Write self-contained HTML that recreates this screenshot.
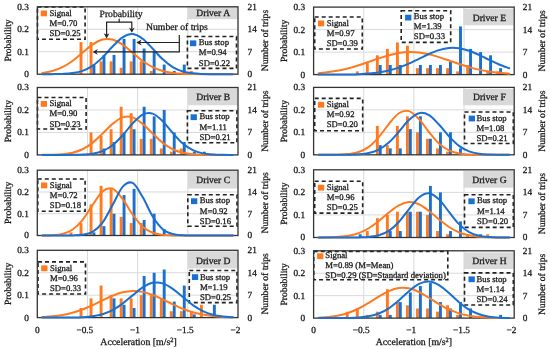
<!DOCTYPE html><html><head><meta charset="utf-8"><style>html,body{margin:0;padding:0;background:#fff;}svg{display:block;will-change:transform;} text{stroke:#111;stroke-width:0.28px;text-rendering:geometricPrecision;}</style></head><body>
<svg width="550" height="349" viewBox="0 0 550 349" font-family='"Liberation Serif", serif'>
<rect width="550" height="349" fill="#fff"/>
<line x1="37.3" y1="51.73" x2="238" y2="51.73" stroke="#D9D9D9" stroke-width="1"/>
<line x1="37.3" y1="29.27" x2="238" y2="29.27" stroke="#D9D9D9" stroke-width="1"/>
<line x1="87.47" y1="6.8" x2="87.47" y2="74.2" stroke="#D9D9D9" stroke-width="1"/>
<line x1="137.65" y1="6.8" x2="137.65" y2="74.2" stroke="#D9D9D9" stroke-width="1"/>
<line x1="187.82" y1="6.8" x2="187.82" y2="74.2" stroke="#D9D9D9" stroke-width="1"/>
<rect x="79.56" y="42.1" width="2.9" height="32.1" fill="#FF7A1E"/>
<rect x="89.59" y="42.1" width="2.9" height="32.1" fill="#FF7A1E"/>
<rect x="99.63" y="61.36" width="2.9" height="12.84" fill="#FF7A1E"/>
<rect x="109.66" y="61.36" width="2.9" height="12.84" fill="#FF7A1E"/>
<rect x="119.7" y="67.78" width="2.9" height="6.42" fill="#FF7A1E"/>
<rect x="129.73" y="61.36" width="2.9" height="12.84" fill="#FF7A1E"/>
<rect x="139.77" y="61.36" width="2.9" height="12.84" fill="#FF7A1E"/>
<rect x="149.8" y="70.99" width="2.9" height="3.21" fill="#FF7A1E"/>
<rect x="189.94" y="70.99" width="2.9" height="3.21" fill="#FF7A1E"/>
<rect x="92.49" y="64.57" width="2.9" height="9.63" fill="#1A6FD0"/>
<rect x="102.53" y="54.94" width="2.9" height="19.26" fill="#1A6FD0"/>
<rect x="112.56" y="54.94" width="2.9" height="19.26" fill="#1A6FD0"/>
<rect x="122.6" y="38.9" width="2.9" height="35.3" fill="#1A6FD0"/>
<rect x="132.63" y="38.9" width="2.9" height="35.3" fill="#1A6FD0"/>
<rect x="142.67" y="48.52" width="2.9" height="25.68" fill="#1A6FD0"/>
<rect x="152.7" y="51.73" width="2.9" height="22.47" fill="#1A6FD0"/>
<rect x="162.74" y="64.57" width="2.9" height="9.63" fill="#1A6FD0"/>
<rect x="172.77" y="70.99" width="2.9" height="3.21" fill="#1A6FD0"/>
<rect x="182.81" y="64.57" width="2.9" height="9.63" fill="#1A6FD0"/>
<rect x="187.6" y="6.8" width="49.8" height="12.4" fill="#D9D9D9"/>
<text x="213.2" y="16.4" font-size="9.6" text-anchor="middle" fill="#222">Driver A</text>
<rect x="37.5" y="7" width="47.6" height="32.3" fill="none" stroke="#222" stroke-width="1.6" stroke-dasharray="4 3"/>
<rect x="40.7" y="10.5" width="6.3" height="5.8" fill="#FF7A1E"/>
<text x="49.5" y="15.6" font-size="8.7" fill="#222">Signal</text>
<text x="49.5" y="25.8" font-size="8.7" fill="#222">M=0.70</text>
<text x="49.5" y="36" font-size="8.7" fill="#222">SD=0.25</text>
<rect x="187.4" y="36.5" width="49.1" height="31.9" fill="none" stroke="#222" stroke-width="1.6" stroke-dasharray="4 3"/>
<rect x="190" y="40.4" width="6.3" height="5.8" fill="#1A6FD0"/>
<text x="198.8" y="45.1" font-size="8.7" fill="#222">Bus stop</text>
<text x="198.8" y="55.3" font-size="8.7" fill="#222">M=0.94</text>
<text x="198.8" y="65.5" font-size="8.7" fill="#222">SD=0.22</text>
<rect x="37.3" y="6.8" width="200.7" height="67.4" fill="none" stroke="#333" stroke-width="1.3"/>
<path d="M42.32,73.00 C43.99,72.67 49.01,72.02 52.35,71.06 C55.70,70.10 59.04,68.90 62.39,67.21 C65.73,65.53 69.08,63.35 72.42,60.95 C75.77,58.54 79.11,55.49 82.46,52.78 C85.80,50.07 89.15,46.90 92.49,44.70 C95.84,42.50 99.18,40.44 102.53,39.59 C105.87,38.73 109.22,38.73 112.56,39.59 C115.91,40.44 119.25,42.50 122.60,44.70 C125.94,46.90 129.29,50.07 132.63,52.78 C135.98,55.49 139.32,58.54 142.67,60.95 C146.01,63.35 149.36,65.53 152.70,67.21 C156.05,68.90 159.39,70.10 162.74,71.06 C166.08,72.02 169.43,72.54 172.77,73.00 C176.12,73.46 179.46,73.63 182.81,73.81 C186.15,73.99 189.50,74.03 192.84,74.09 C196.19,74.15 199.53,74.16 202.88,74.17 C206.22,74.19 209.57,74.19 212.91,74.19 C216.26,74.20 219.60,74.20 222.95,74.20 C226.29,74.20 231.31,74.20 232.98,74.20" fill="none" stroke="#FF7A1E" stroke-width="2" stroke-linejoin="round" stroke-linecap="round"/>
<path d="M42.32,74.19 C43.99,74.18 49.01,74.18 52.35,74.14 C55.70,74.09 59.04,74.08 62.39,73.91 C65.73,73.73 69.08,73.61 72.42,73.10 C75.77,72.59 79.11,72.05 82.46,70.84 C85.80,69.63 89.15,68.11 92.49,65.86 C95.84,63.62 99.18,60.58 102.53,57.37 C105.87,54.15 109.22,49.91 112.56,46.56 C115.91,43.22 119.25,39.37 122.60,37.29 C125.94,35.22 129.29,33.86 132.63,34.11 C135.98,34.36 139.32,36.35 142.67,38.79 C146.01,41.23 149.36,45.33 152.70,48.75 C156.05,52.18 159.39,56.27 162.74,59.33 C166.08,62.39 169.43,65.11 172.77,67.13 C176.12,69.16 179.46,70.43 182.81,71.47 C186.15,72.50 189.50,72.92 192.84,73.34 C196.19,73.76 199.53,73.84 202.88,73.98 C206.22,74.12 209.57,74.12 212.91,74.15 C216.26,74.19 219.60,74.18 222.95,74.19 C226.29,74.20 231.31,74.20 232.98,74.20" fill="none" stroke="#1A6FD0" stroke-width="2" stroke-linejoin="round" stroke-linecap="round"/>
<text x="28.8" y="77.1" font-size="9.3" text-anchor="end" fill="#222">0</text>
<text x="28.8" y="54.63" font-size="9.3" text-anchor="end" fill="#222">0.1</text>
<text x="28.8" y="32.17" font-size="9.3" text-anchor="end" fill="#222">0.2</text>
<text x="28.8" y="9.7" font-size="9.3" text-anchor="end" fill="#222">0.3</text>
<text x="247.5" y="77.1" font-size="9.3" fill="#222">0</text>
<text x="247.5" y="54.63" font-size="9.3" fill="#222">7</text>
<text x="247.5" y="32.17" font-size="9.3" fill="#222">14</text>
<text x="247.5" y="9.7" font-size="9.3" fill="#222">21</text>
<text transform="translate(10.8,40.5) rotate(-90)" font-size="9.5" text-anchor="middle" fill="#222">Probability</text>
<text transform="translate(267.5,40.5) rotate(-90)" font-size="9.6" text-anchor="middle" fill="#222">Number of trips</text>
<line x1="37.3" y1="132.43" x2="238" y2="132.43" stroke="#D9D9D9" stroke-width="1"/>
<line x1="37.3" y1="109.97" x2="238" y2="109.97" stroke="#D9D9D9" stroke-width="1"/>
<line x1="87.47" y1="87.5" x2="87.47" y2="154.9" stroke="#D9D9D9" stroke-width="1"/>
<line x1="137.65" y1="87.5" x2="137.65" y2="154.9" stroke="#D9D9D9" stroke-width="1"/>
<line x1="187.82" y1="87.5" x2="187.82" y2="154.9" stroke="#D9D9D9" stroke-width="1"/>
<rect x="89.59" y="132.43" width="2.9" height="22.47" fill="#FF7A1E"/>
<rect x="99.63" y="135.64" width="2.9" height="19.26" fill="#FF7A1E"/>
<rect x="109.66" y="129.22" width="2.9" height="25.68" fill="#FF7A1E"/>
<rect x="119.7" y="106.76" width="2.9" height="48.14" fill="#FF7A1E"/>
<rect x="129.73" y="113.18" width="2.9" height="41.72" fill="#FF7A1E"/>
<rect x="139.77" y="138.85" width="2.9" height="16.05" fill="#FF7A1E"/>
<rect x="149.8" y="138.85" width="2.9" height="16.05" fill="#FF7A1E"/>
<rect x="159.84" y="148.48" width="2.9" height="6.42" fill="#FF7A1E"/>
<rect x="169.87" y="151.69" width="2.9" height="3.21" fill="#FF7A1E"/>
<rect x="179.91" y="148.48" width="2.9" height="6.42" fill="#FF7A1E"/>
<rect x="102.53" y="148.48" width="2.9" height="6.42" fill="#1A6FD0"/>
<rect x="112.56" y="142.06" width="2.9" height="12.84" fill="#1A6FD0"/>
<rect x="122.6" y="132.43" width="2.9" height="22.47" fill="#1A6FD0"/>
<rect x="132.63" y="129.22" width="2.9" height="25.68" fill="#1A6FD0"/>
<rect x="142.67" y="106.76" width="2.9" height="48.14" fill="#1A6FD0"/>
<rect x="152.7" y="116.39" width="2.9" height="38.51" fill="#1A6FD0"/>
<rect x="162.74" y="109.97" width="2.9" height="44.93" fill="#1A6FD0"/>
<rect x="172.77" y="132.43" width="2.9" height="22.47" fill="#1A6FD0"/>
<rect x="182.81" y="142.06" width="2.9" height="12.84" fill="#1A6FD0"/>
<rect x="192.84" y="151.69" width="2.9" height="3.21" fill="#1A6FD0"/>
<rect x="202.88" y="151.69" width="2.9" height="3.21" fill="#1A6FD0"/>
<rect x="187.6" y="88.4" width="49.8" height="16.9" fill="#D9D9D9"/>
<text x="213.2" y="100.4" font-size="9.6" text-anchor="middle" fill="#222">Driver B</text>
<rect x="37.5" y="97.5" width="48.6" height="31.5" fill="none" stroke="#222" stroke-width="1.6" stroke-dasharray="4 3"/>
<rect x="40.7" y="101" width="6.3" height="5.8" fill="#FF7A1E"/>
<text x="49.5" y="106.1" font-size="8.7" fill="#222">Signal</text>
<text x="49.5" y="116.3" font-size="8.7" fill="#222">M=0.90</text>
<text x="49.5" y="126.5" font-size="8.7" fill="#222">SD=0.23</text>
<rect x="187.4" y="110.8" width="49.5" height="31.9" fill="none" stroke="#222" stroke-width="1.6" stroke-dasharray="4 3"/>
<rect x="190.6" y="114.3" width="6.3" height="5.8" fill="#1A6FD0"/>
<text x="199.4" y="119.4" font-size="8.7" fill="#222">Bus stop</text>
<text x="199.4" y="129.6" font-size="8.7" fill="#222">M=1.11</text>
<text x="199.4" y="139.8" font-size="8.7" fill="#222">SD=0.21</text>
<rect x="37.3" y="87.5" width="200.7" height="67.4" fill="none" stroke="#333" stroke-width="1.3"/>
<path d="M42.32,154.86 C43.99,154.83 49.01,154.82 52.35,154.71 C55.70,154.60 59.04,154.53 62.39,154.19 C65.73,153.86 69.08,153.53 72.42,152.70 C75.77,151.87 79.11,150.88 82.46,149.24 C85.80,147.60 89.15,145.44 92.49,142.84 C95.84,140.24 99.18,136.80 102.53,133.64 C105.87,130.48 109.22,126.57 112.56,123.87 C115.91,121.16 119.25,118.49 122.60,117.41 C125.94,116.34 129.29,116.34 132.63,117.41 C135.98,118.49 139.32,121.16 142.67,123.87 C146.01,126.57 149.36,130.48 152.70,133.64 C156.05,136.80 159.39,140.24 162.74,142.84 C166.08,145.44 169.43,147.60 172.77,149.24 C176.12,150.88 179.46,151.87 182.81,152.70 C186.15,153.53 189.50,153.86 192.84,154.19 C196.19,154.53 199.53,154.60 202.88,154.71 C206.22,154.82 209.57,154.83 212.91,154.86 C216.26,154.89 219.60,154.89 222.95,154.89 C226.29,154.90 231.31,154.90 232.98,154.90" fill="none" stroke="#FF7A1E" stroke-width="2" stroke-linejoin="round" stroke-linecap="round"/>
<path d="M42.32,154.90 C43.99,154.90 49.01,154.90 52.35,154.90 C55.70,154.90 59.04,154.90 62.39,154.89 C65.73,154.88 69.08,154.89 72.42,154.84 C75.77,154.79 79.11,154.79 82.46,154.60 C85.80,154.41 89.15,154.29 92.49,153.70 C95.84,153.11 99.18,152.49 102.53,151.08 C105.87,149.67 109.22,147.85 112.56,145.23 C115.91,142.61 119.25,138.99 122.60,135.37 C125.94,131.74 129.29,126.92 132.63,123.45 C135.98,119.98 139.32,116.18 142.67,114.54 C146.01,112.90 149.36,112.50 152.70,113.62 C156.05,114.73 159.39,118.00 162.74,121.24 C166.08,124.47 169.43,129.30 172.77,133.02 C176.12,136.74 179.46,140.70 182.81,143.56 C186.15,146.43 189.50,148.59 192.84,150.22 C196.19,151.85 199.53,152.65 202.88,153.36 C206.22,154.07 209.57,154.25 212.91,154.50 C216.26,154.74 219.60,154.75 222.95,154.82 C226.29,154.88 231.31,154.87 232.98,154.89" fill="none" stroke="#1A6FD0" stroke-width="2" stroke-linejoin="round" stroke-linecap="round"/>
<text x="28.8" y="157.8" font-size="9.3" text-anchor="end" fill="#222">0</text>
<text x="28.8" y="135.33" font-size="9.3" text-anchor="end" fill="#222">0.1</text>
<text x="28.8" y="112.87" font-size="9.3" text-anchor="end" fill="#222">0.2</text>
<text x="28.8" y="90.4" font-size="9.3" text-anchor="end" fill="#222">0.3</text>
<text x="247.5" y="157.8" font-size="9.3" fill="#222">0</text>
<text x="247.5" y="135.33" font-size="9.3" fill="#222">7</text>
<text x="247.5" y="112.87" font-size="9.3" fill="#222">14</text>
<text x="247.5" y="90.4" font-size="9.3" fill="#222">21</text>
<text transform="translate(10.8,121.2) rotate(-90)" font-size="9.5" text-anchor="middle" fill="#222">Probability</text>
<text transform="translate(267.5,121.2) rotate(-90)" font-size="9.6" text-anchor="middle" fill="#222">Number of trips</text>
<line x1="37.3" y1="213.73" x2="238" y2="213.73" stroke="#D9D9D9" stroke-width="1"/>
<line x1="37.3" y1="191.97" x2="238" y2="191.97" stroke="#D9D9D9" stroke-width="1"/>
<line x1="87.47" y1="170.2" x2="87.47" y2="235.5" stroke="#D9D9D9" stroke-width="1"/>
<line x1="137.65" y1="170.2" x2="137.65" y2="235.5" stroke="#D9D9D9" stroke-width="1"/>
<line x1="187.82" y1="170.2" x2="187.82" y2="235.5" stroke="#D9D9D9" stroke-width="1"/>
<rect x="69.52" y="232.39" width="2.9" height="3.11" fill="#FF7A1E"/>
<rect x="79.56" y="223.06" width="2.9" height="12.44" fill="#FF7A1E"/>
<rect x="89.59" y="204.4" width="2.9" height="31.1" fill="#FF7A1E"/>
<rect x="99.63" y="185.75" width="2.9" height="49.75" fill="#FF7A1E"/>
<rect x="109.66" y="188.86" width="2.9" height="46.64" fill="#FF7A1E"/>
<rect x="119.7" y="216.84" width="2.9" height="18.66" fill="#FF7A1E"/>
<rect x="129.73" y="223.06" width="2.9" height="12.44" fill="#FF7A1E"/>
<rect x="139.77" y="223.06" width="2.9" height="12.44" fill="#FF7A1E"/>
<rect x="92.49" y="232.39" width="2.9" height="3.11" fill="#1A6FD0"/>
<rect x="102.53" y="226.17" width="2.9" height="9.33" fill="#1A6FD0"/>
<rect x="112.56" y="213.73" width="2.9" height="21.77" fill="#1A6FD0"/>
<rect x="122.6" y="195.08" width="2.9" height="40.42" fill="#1A6FD0"/>
<rect x="132.63" y="188.86" width="2.9" height="46.64" fill="#1A6FD0"/>
<rect x="142.67" y="219.95" width="2.9" height="15.55" fill="#1A6FD0"/>
<rect x="152.7" y="213.73" width="2.9" height="21.77" fill="#1A6FD0"/>
<rect x="162.74" y="229.28" width="2.9" height="6.22" fill="#1A6FD0"/>
<rect x="188" y="171" width="49.4" height="17.5" fill="#D9D9D9"/>
<text x="213.2" y="183.3" font-size="9.6" text-anchor="middle" fill="#222">Driver C</text>
<rect x="37.8" y="179" width="47.3" height="32.3" fill="none" stroke="#222" stroke-width="1.6" stroke-dasharray="4 3"/>
<rect x="41" y="182.5" width="6.3" height="5.8" fill="#FF7A1E"/>
<text x="49.8" y="187.6" font-size="8.7" fill="#222">Signal</text>
<text x="49.8" y="197.8" font-size="8.7" fill="#222">M=0.72</text>
<text x="49.8" y="208" font-size="8.7" fill="#222">SD=0.18</text>
<rect x="187.8" y="194.8" width="49.2" height="31.5" fill="none" stroke="#222" stroke-width="1.6" stroke-dasharray="4 3"/>
<rect x="191" y="198.3" width="6.3" height="5.8" fill="#1A6FD0"/>
<text x="199.8" y="203.4" font-size="8.7" fill="#222">Bus stop</text>
<text x="199.8" y="213.6" font-size="8.7" fill="#222">M=0.92</text>
<text x="199.8" y="223.8" font-size="8.7" fill="#222">SD=0.16</text>
<rect x="37.3" y="170.2" width="200.7" height="65.3" fill="none" stroke="#333" stroke-width="1.3"/>
<path d="M42.32,235.45 C43.99,235.41 49.01,235.44 52.35,235.18 C55.70,234.93 59.04,234.83 62.39,233.93 C65.73,233.02 69.08,232.06 72.42,229.75 C75.77,227.44 79.11,224.19 82.46,220.07 C85.80,215.96 89.15,209.85 92.49,205.08 C95.84,200.31 99.18,194.18 102.53,191.44 C105.87,188.70 109.22,187.40 112.56,188.64 C115.91,189.88 119.25,194.58 122.60,198.89 C125.94,203.20 129.29,209.87 132.63,214.49 C135.98,219.12 139.32,223.60 142.67,226.65 C146.01,229.69 149.36,231.39 152.70,232.76 C156.05,234.13 159.39,234.44 162.74,234.88 C166.08,235.32 169.43,235.29 172.77,235.40 C176.12,235.50 179.46,235.47 182.81,235.49 C186.15,235.50 189.50,235.50 192.84,235.50 C196.19,235.50 199.53,235.50 202.88,235.50 C206.22,235.50 209.57,235.50 212.91,235.50 C216.26,235.50 219.60,235.50 222.95,235.50 C226.29,235.50 231.31,235.50 232.98,235.50" fill="none" stroke="#FF7A1E" stroke-width="2" stroke-linejoin="round" stroke-linecap="round"/>
<path d="M42.32,235.50 C43.99,235.50 49.01,235.50 52.35,235.50 C55.70,235.50 59.04,235.51 62.39,235.49 C65.73,235.48 69.08,235.52 72.42,235.41 C75.77,235.29 79.11,235.38 82.46,234.79 C85.80,234.19 89.15,233.84 92.49,231.81 C95.84,229.79 99.18,227.08 102.53,222.63 C105.87,218.18 109.22,211.05 112.56,205.10 C115.91,199.15 119.25,190.61 122.60,186.92 C125.94,183.23 129.29,181.28 132.63,182.97 C135.98,184.66 139.32,191.49 142.67,197.07 C146.01,202.65 149.36,211.13 152.70,216.48 C156.05,221.82 159.39,226.20 162.74,229.13 C166.08,232.06 169.43,233.03 172.77,234.06 C176.12,235.08 179.46,235.04 182.81,235.28 C186.15,235.52 189.50,235.44 192.84,235.48 C196.19,235.51 199.53,235.49 202.88,235.50 C206.22,235.50 209.57,235.50 212.91,235.50 C216.26,235.50 219.60,235.50 222.95,235.50 C226.29,235.50 231.31,235.50 232.98,235.50" fill="none" stroke="#1A6FD0" stroke-width="2" stroke-linejoin="round" stroke-linecap="round"/>
<text x="28.8" y="238.4" font-size="9.3" text-anchor="end" fill="#222">0</text>
<text x="28.8" y="216.63" font-size="9.3" text-anchor="end" fill="#222">0.1</text>
<text x="28.8" y="194.87" font-size="9.3" text-anchor="end" fill="#222">0.2</text>
<text x="28.8" y="173.1" font-size="9.3" text-anchor="end" fill="#222">0.3</text>
<text x="247.5" y="238.4" font-size="9.3" fill="#222">0</text>
<text x="247.5" y="216.63" font-size="9.3" fill="#222">7</text>
<text x="247.5" y="194.87" font-size="9.3" fill="#222">14</text>
<text x="247.5" y="173.1" font-size="9.3" fill="#222">21</text>
<text transform="translate(10.8,202.85) rotate(-90)" font-size="9.5" text-anchor="middle" fill="#222">Probability</text>
<text transform="translate(267.5,202.85) rotate(-90)" font-size="9.6" text-anchor="middle" fill="#222">Number of trips</text>
<line x1="37.3" y1="295.17" x2="238" y2="295.17" stroke="#D9D9D9" stroke-width="1"/>
<line x1="37.3" y1="272.73" x2="238" y2="272.73" stroke="#D9D9D9" stroke-width="1"/>
<line x1="87.47" y1="250.3" x2="87.47" y2="317.6" stroke="#D9D9D9" stroke-width="1"/>
<line x1="137.65" y1="250.3" x2="137.65" y2="317.6" stroke="#D9D9D9" stroke-width="1"/>
<line x1="187.82" y1="250.3" x2="187.82" y2="317.6" stroke="#D9D9D9" stroke-width="1"/>
<rect x="79.56" y="307.99" width="2.9" height="9.61" fill="#FF7A1E"/>
<rect x="89.59" y="298.37" width="2.9" height="19.23" fill="#FF7A1E"/>
<rect x="99.63" y="285.55" width="2.9" height="32.05" fill="#FF7A1E"/>
<rect x="109.66" y="295.17" width="2.9" height="22.43" fill="#FF7A1E"/>
<rect x="119.7" y="298.37" width="2.9" height="19.23" fill="#FF7A1E"/>
<rect x="129.73" y="298.37" width="2.9" height="19.23" fill="#FF7A1E"/>
<rect x="139.77" y="295.17" width="2.9" height="22.43" fill="#FF7A1E"/>
<rect x="149.8" y="295.17" width="2.9" height="22.43" fill="#FF7A1E"/>
<rect x="159.84" y="298.37" width="2.9" height="19.23" fill="#FF7A1E"/>
<rect x="169.87" y="311.19" width="2.9" height="6.41" fill="#FF7A1E"/>
<rect x="179.91" y="311.19" width="2.9" height="6.41" fill="#FF7A1E"/>
<rect x="189.94" y="311.19" width="2.9" height="6.41" fill="#FF7A1E"/>
<rect x="199.98" y="304.78" width="2.9" height="12.82" fill="#FF7A1E"/>
<rect x="112.56" y="298.37" width="2.9" height="19.23" fill="#1A6FD0"/>
<rect x="122.6" y="304.78" width="2.9" height="12.82" fill="#1A6FD0"/>
<rect x="132.63" y="307.99" width="2.9" height="9.61" fill="#1A6FD0"/>
<rect x="142.67" y="275.94" width="2.9" height="41.66" fill="#1A6FD0"/>
<rect x="152.7" y="272.73" width="2.9" height="44.87" fill="#1A6FD0"/>
<rect x="162.74" y="269.53" width="2.9" height="48.07" fill="#1A6FD0"/>
<rect x="172.77" y="301.58" width="2.9" height="16.02" fill="#1A6FD0"/>
<rect x="182.81" y="285.55" width="2.9" height="32.05" fill="#1A6FD0"/>
<rect x="192.84" y="314.4" width="2.9" height="3.2" fill="#1A6FD0"/>
<rect x="212.91" y="304.78" width="2.9" height="12.82" fill="#1A6FD0"/>
<rect x="187.7" y="251.3" width="49.7" height="17.2" fill="#D9D9D9"/>
<text x="213.2" y="263.8" font-size="9.6" text-anchor="middle" fill="#222">Driver D</text>
<rect x="38" y="261.9" width="47.5" height="32.1" fill="none" stroke="#222" stroke-width="1.6" stroke-dasharray="4 3"/>
<rect x="41.2" y="265.4" width="6.3" height="5.8" fill="#FF7A1E"/>
<text x="50" y="270.5" font-size="8.7" fill="#222">Signal</text>
<text x="50" y="280.7" font-size="8.7" fill="#222">M=0.96</text>
<text x="50" y="290.9" font-size="8.7" fill="#222">SD=0.33</text>
<rect x="189.3" y="270.5" width="47.7" height="32.1" fill="none" stroke="#222" stroke-width="1.6" stroke-dasharray="4 3"/>
<rect x="191.9" y="274.2" width="6.3" height="5.8" fill="#1A6FD0"/>
<text x="199.9" y="279.5" font-size="8.7" fill="#222">Bus stop</text>
<text x="199.9" y="289.7" font-size="8.7" fill="#222">M=1.19</text>
<text x="199.9" y="299.9" font-size="8.7" fill="#222">SD=0.25</text>
<rect x="37.3" y="250.3" width="200.7" height="67.3" fill="none" stroke="#333" stroke-width="1.3"/>
<path d="M42.32,317.00 C43.99,316.88 49.01,316.63 52.35,316.29 C55.70,315.95 59.04,315.55 62.39,314.96 C65.73,314.37 69.08,313.67 72.42,312.76 C75.77,311.85 79.11,310.76 82.46,309.51 C85.80,308.26 89.15,306.77 92.49,305.25 C95.84,303.74 99.18,302.00 102.53,300.42 C105.87,298.84 109.22,297.13 112.56,295.78 C115.91,294.44 119.25,293.14 122.60,292.33 C125.94,291.52 129.29,290.98 132.63,290.90 C135.98,290.82 139.32,291.18 142.67,291.86 C146.01,292.54 149.36,293.70 152.70,294.97 C156.05,296.23 159.39,297.89 162.74,299.44 C166.08,301.00 169.43,302.77 172.77,304.31 C176.12,305.86 179.46,307.42 182.81,308.73 C186.15,310.04 189.50,311.22 192.84,312.20 C196.19,313.18 199.53,313.95 202.88,314.60 C206.22,315.25 209.57,315.70 212.91,316.08 C216.26,316.46 219.60,316.69 222.95,316.90 C226.29,317.10 231.31,317.24 232.98,317.30" fill="none" stroke="#FF7A1E" stroke-width="2" stroke-linejoin="round" stroke-linecap="round"/>
<path d="M42.32,317.60 C43.99,317.60 49.01,317.60 52.35,317.59 C55.70,317.59 59.04,317.59 62.39,317.57 C65.73,317.55 69.08,317.54 72.42,317.48 C75.77,317.41 79.11,317.36 82.46,317.16 C85.80,316.96 89.15,316.77 92.49,316.27 C95.84,315.77 99.18,315.21 102.53,314.18 C105.87,313.15 109.22,311.87 112.56,310.11 C115.91,308.35 119.25,306.07 122.60,303.61 C125.94,301.16 129.29,298.05 132.63,295.36 C135.98,292.66 139.32,289.55 142.67,287.46 C146.01,285.36 149.36,283.47 152.70,282.79 C156.05,282.10 159.39,282.33 162.74,283.34 C166.08,284.35 169.43,286.58 172.77,288.87 C176.12,291.16 179.46,294.36 182.81,297.07 C186.15,299.77 189.50,302.76 192.84,305.10 C196.19,307.44 199.53,309.51 202.88,311.11 C206.22,312.72 209.57,313.83 212.91,314.73 C216.26,315.63 219.60,316.10 222.95,316.52 C226.29,316.94 231.31,317.13 232.98,317.25" fill="none" stroke="#1A6FD0" stroke-width="2" stroke-linejoin="round" stroke-linecap="round"/>
<text x="28.8" y="320.5" font-size="9.3" text-anchor="end" fill="#222">0</text>
<text x="28.8" y="298.07" font-size="9.3" text-anchor="end" fill="#222">0.1</text>
<text x="28.8" y="275.63" font-size="9.3" text-anchor="end" fill="#222">0.2</text>
<text x="28.8" y="253.2" font-size="9.3" text-anchor="end" fill="#222">0.3</text>
<text x="247.5" y="320.5" font-size="9.3" fill="#222">0</text>
<text x="247.5" y="298.07" font-size="9.3" fill="#222">7</text>
<text x="247.5" y="275.63" font-size="9.3" fill="#222">14</text>
<text x="247.5" y="253.2" font-size="9.3" fill="#222">21</text>
<text transform="translate(10.8,283.95) rotate(-90)" font-size="9.5" text-anchor="middle" fill="#222">Probability</text>
<text transform="translate(267.5,283.95) rotate(-90)" font-size="9.6" text-anchor="middle" fill="#222">Number of trips</text>
<text x="37.3" y="333" font-size="9.3" text-anchor="middle" fill="#222">0</text>
<text x="93.29" y="333" font-size="9.3" text-anchor="end" fill="#222">−0.5</text>
<text x="139.97" y="333" font-size="9.3" text-anchor="end" fill="#222">−1</text>
<text x="193.64" y="333" font-size="9.3" text-anchor="end" fill="#222">−1.5</text>
<text x="240.32" y="333" font-size="9.3" text-anchor="end" fill="#222">−2</text>
<text x="138.55" y="345" font-size="9.8" text-anchor="middle" fill="#222">Acceleration [m/s<tspan font-size="6.5" dy="-3.5">2</tspan><tspan dy="3.5">]</tspan></text>
<line x1="313.6" y1="52.1" x2="514.2" y2="52.1" stroke="#D9D9D9" stroke-width="1"/>
<line x1="313.6" y1="29.6" x2="514.2" y2="29.6" stroke="#D9D9D9" stroke-width="1"/>
<line x1="363.75" y1="7.1" x2="363.75" y2="74.6" stroke="#D9D9D9" stroke-width="1"/>
<line x1="413.9" y1="7.1" x2="413.9" y2="74.6" stroke="#D9D9D9" stroke-width="1"/>
<line x1="464.05" y1="7.1" x2="464.05" y2="74.6" stroke="#D9D9D9" stroke-width="1"/>
<rect x="355.84" y="71.39" width="2.9" height="3.21" fill="#FF7A1E"/>
<rect x="365.87" y="61.74" width="2.9" height="12.86" fill="#FF7A1E"/>
<rect x="375.9" y="55.31" width="2.9" height="19.29" fill="#FF7A1E"/>
<rect x="385.93" y="48.89" width="2.9" height="25.71" fill="#FF7A1E"/>
<rect x="395.96" y="42.46" width="2.9" height="32.14" fill="#FF7A1E"/>
<rect x="405.99" y="45.67" width="2.9" height="28.93" fill="#FF7A1E"/>
<rect x="416.02" y="68.17" width="2.9" height="6.43" fill="#FF7A1E"/>
<rect x="426.05" y="68.17" width="2.9" height="6.43" fill="#FF7A1E"/>
<rect x="436.08" y="68.17" width="2.9" height="6.43" fill="#FF7A1E"/>
<rect x="446.11" y="68.17" width="2.9" height="6.43" fill="#FF7A1E"/>
<rect x="456.14" y="71.39" width="2.9" height="3.21" fill="#FF7A1E"/>
<rect x="466.17" y="64.96" width="2.9" height="9.64" fill="#FF7A1E"/>
<rect x="486.23" y="71.39" width="2.9" height="3.21" fill="#FF7A1E"/>
<rect x="496.26" y="71.39" width="2.9" height="3.21" fill="#FF7A1E"/>
<rect x="378.8" y="64.96" width="2.9" height="9.64" fill="#1A6FD0"/>
<rect x="388.83" y="64.96" width="2.9" height="9.64" fill="#1A6FD0"/>
<rect x="398.86" y="64.96" width="2.9" height="9.64" fill="#1A6FD0"/>
<rect x="418.92" y="64.96" width="2.9" height="9.64" fill="#1A6FD0"/>
<rect x="428.95" y="64.96" width="2.9" height="9.64" fill="#1A6FD0"/>
<rect x="438.98" y="64.96" width="2.9" height="9.64" fill="#1A6FD0"/>
<rect x="449.01" y="61.74" width="2.9" height="12.86" fill="#1A6FD0"/>
<rect x="459.04" y="26.39" width="2.9" height="48.21" fill="#1A6FD0"/>
<rect x="469.07" y="48.89" width="2.9" height="25.71" fill="#1A6FD0"/>
<rect x="479.1" y="52.1" width="2.9" height="22.5" fill="#1A6FD0"/>
<rect x="489.13" y="55.31" width="2.9" height="19.29" fill="#1A6FD0"/>
<rect x="499.16" y="68.17" width="2.9" height="6.43" fill="#1A6FD0"/>
<rect x="463.3" y="8.7" width="50.3" height="16.6" fill="#D9D9D9"/>
<text x="489.4" y="21" font-size="9.6" text-anchor="middle" fill="#222">Driver E</text>
<rect x="314.7" y="17" width="47.6" height="32" fill="none" stroke="#222" stroke-width="1.6" stroke-dasharray="4 3"/>
<rect x="317.9" y="20.5" width="6.3" height="5.8" fill="#FF7A1E"/>
<text x="326.7" y="25.6" font-size="8.7" fill="#222">Signal</text>
<text x="326.7" y="35.8" font-size="8.7" fill="#222">M=0.97</text>
<text x="326.7" y="46" font-size="8.7" fill="#222">SD=0.39</text>
<rect x="401.2" y="10.8" width="49.5" height="31.6" fill="none" stroke="#222" stroke-width="1.6" stroke-dasharray="4 3"/>
<rect x="405.1" y="14.7" width="6.3" height="5.8" fill="#1A6FD0"/>
<text x="413.8" y="18.7" font-size="8.7" fill="#222">Bus stop</text>
<text x="413.8" y="28.9" font-size="8.7" fill="#222">M=1.39</text>
<text x="413.8" y="39.1" font-size="8.7" fill="#222">SD=0.33</text>
<rect x="313.6" y="7.1" width="200.6" height="67.5" fill="none" stroke="#333" stroke-width="1.3"/>
<path d="M318.62,73.20 C320.29,73.02 325.30,72.57 328.65,72.11 C331.99,71.66 335.33,71.13 338.68,70.48 C342.02,69.82 345.36,69.06 348.71,68.19 C352.05,67.33 355.39,66.33 358.74,65.28 C362.08,64.23 365.42,63.05 368.77,61.91 C372.11,60.76 375.45,59.52 378.80,58.41 C382.14,57.30 385.48,56.17 388.83,55.26 C392.17,54.36 395.51,53.53 398.86,52.98 C402.20,52.43 405.54,52.06 408.89,51.96 C412.23,51.86 415.57,52.02 418.92,52.40 C422.26,52.78 425.60,53.44 428.95,54.22 C432.29,55.00 435.63,56.03 438.98,57.08 C442.32,58.13 445.66,59.35 449.01,60.50 C452.35,61.65 455.69,62.87 459.04,63.97 C462.38,65.07 465.72,66.15 469.07,67.10 C472.41,68.04 475.75,68.90 479.10,69.64 C482.44,70.38 485.78,71.00 489.13,71.53 C492.47,72.06 495.81,72.47 499.16,72.82 C502.50,73.17 507.51,73.50 509.19,73.64" fill="none" stroke="#FF7A1E" stroke-width="2" stroke-linejoin="round" stroke-linecap="round"/>
<path d="M318.62,74.59 C320.29,74.59 325.30,74.59 328.65,74.58 C331.99,74.57 335.33,74.56 338.68,74.53 C342.02,74.50 345.36,74.48 348.71,74.41 C352.05,74.35 355.39,74.28 358.74,74.14 C362.08,73.99 365.42,73.83 368.77,73.55 C372.11,73.27 375.45,72.94 378.80,72.43 C382.14,71.93 385.48,71.32 388.83,70.51 C392.17,69.71 395.51,68.73 398.86,67.58 C402.20,66.42 405.54,65.04 408.89,63.59 C412.23,62.13 415.57,60.43 418.92,58.84 C422.26,57.25 425.60,55.49 428.95,54.03 C432.29,52.58 435.63,51.12 438.98,50.11 C442.32,49.11 445.66,48.31 449.01,48.00 C452.35,47.69 455.69,47.78 459.04,48.25 C462.38,48.71 465.72,49.66 469.07,50.78 C472.41,51.90 475.75,53.45 479.10,54.96 C482.44,56.46 485.78,58.24 489.13,59.82 C492.47,61.41 495.81,63.05 499.16,64.46 C502.50,65.86 507.51,67.62 509.19,68.25" fill="none" stroke="#1A6FD0" stroke-width="2" stroke-linejoin="round" stroke-linecap="round"/>
<text x="305.1" y="77.5" font-size="9.3" text-anchor="end" fill="#222">0</text>
<text x="305.1" y="55" font-size="9.3" text-anchor="end" fill="#222">0.1</text>
<text x="305.1" y="32.5" font-size="9.3" text-anchor="end" fill="#222">0.2</text>
<text x="305.1" y="10" font-size="9.3" text-anchor="end" fill="#222">0.3</text>
<text x="522.8" y="77.5" font-size="9.3" fill="#222">0</text>
<text x="522.8" y="55" font-size="9.3" fill="#222">7</text>
<text x="522.8" y="32.5" font-size="9.3" fill="#222">14</text>
<text x="522.8" y="10" font-size="9.3" fill="#222">21</text>
<text transform="translate(287.1,40.85) rotate(-90)" font-size="9.5" text-anchor="middle" fill="#222">Probability</text>
<text transform="translate(545.2,40.85) rotate(-90)" font-size="9.6" text-anchor="middle" fill="#222">Number of trips</text>
<line x1="313.6" y1="132.33" x2="514.2" y2="132.33" stroke="#D9D9D9" stroke-width="1"/>
<line x1="313.6" y1="109.87" x2="514.2" y2="109.87" stroke="#D9D9D9" stroke-width="1"/>
<line x1="363.75" y1="87.4" x2="363.75" y2="154.8" stroke="#D9D9D9" stroke-width="1"/>
<line x1="413.9" y1="87.4" x2="413.9" y2="154.8" stroke="#D9D9D9" stroke-width="1"/>
<line x1="464.05" y1="87.4" x2="464.05" y2="154.8" stroke="#D9D9D9" stroke-width="1"/>
<rect x="375.9" y="125.91" width="2.9" height="28.89" fill="#FF7A1E"/>
<rect x="385.93" y="145.17" width="2.9" height="9.63" fill="#FF7A1E"/>
<rect x="395.96" y="125.91" width="2.9" height="28.89" fill="#FF7A1E"/>
<rect x="405.99" y="116.29" width="2.9" height="38.51" fill="#FF7A1E"/>
<rect x="416.02" y="132.33" width="2.9" height="22.47" fill="#FF7A1E"/>
<rect x="426.05" y="138.75" width="2.9" height="16.05" fill="#FF7A1E"/>
<rect x="436.08" y="148.38" width="2.9" height="6.42" fill="#FF7A1E"/>
<rect x="446.11" y="151.59" width="2.9" height="3.21" fill="#FF7A1E"/>
<rect x="378.8" y="145.17" width="2.9" height="9.63" fill="#1A6FD0"/>
<rect x="388.83" y="148.38" width="2.9" height="6.42" fill="#1A6FD0"/>
<rect x="398.86" y="148.38" width="2.9" height="6.42" fill="#1A6FD0"/>
<rect x="408.89" y="129.12" width="2.9" height="25.68" fill="#1A6FD0"/>
<rect x="418.92" y="116.29" width="2.9" height="38.51" fill="#1A6FD0"/>
<rect x="428.95" y="138.75" width="2.9" height="16.05" fill="#1A6FD0"/>
<rect x="438.98" y="132.33" width="2.9" height="22.47" fill="#1A6FD0"/>
<rect x="449.01" y="132.33" width="2.9" height="22.47" fill="#1A6FD0"/>
<rect x="459.04" y="148.38" width="2.9" height="6.42" fill="#1A6FD0"/>
<rect x="463" y="89" width="50.6" height="16.3" fill="#D9D9D9"/>
<text x="489.4" y="100" font-size="9.6" text-anchor="middle" fill="#222">Driver F</text>
<rect x="314.7" y="98.4" width="48" height="32.3" fill="none" stroke="#222" stroke-width="1.6" stroke-dasharray="4 3"/>
<rect x="317.9" y="101.9" width="6.3" height="5.8" fill="#FF7A1E"/>
<text x="326.7" y="107" font-size="8.7" fill="#222">Signal</text>
<text x="326.7" y="117.2" font-size="8.7" fill="#222">M=0.92</text>
<text x="326.7" y="127.4" font-size="8.7" fill="#222">SD=0.20</text>
<rect x="464.5" y="112" width="48.8" height="31.5" fill="none" stroke="#222" stroke-width="1.6" stroke-dasharray="4 3"/>
<rect x="468.7" y="115.6" width="6.3" height="5.8" fill="#1A6FD0"/>
<text x="476.5" y="120.6" font-size="8.7" fill="#222">Bus stop</text>
<text x="476.5" y="130.8" font-size="8.7" fill="#222">M=1.08</text>
<text x="476.5" y="141" font-size="8.7" fill="#222">SD=0.21</text>
<rect x="313.6" y="87.4" width="200.6" height="67.4" fill="none" stroke="#333" stroke-width="1.3"/>
<path d="M318.62,154.80 C320.29,154.79 325.30,154.80 328.65,154.77 C331.99,154.75 335.33,154.76 338.68,154.64 C342.02,154.52 345.36,154.48 348.71,154.04 C352.05,153.60 355.39,153.21 358.74,152.01 C362.08,150.81 365.42,149.32 368.77,146.83 C372.11,144.33 375.45,140.85 378.80,137.05 C382.14,133.26 385.48,128.00 388.83,124.04 C392.17,120.08 395.51,115.43 398.86,113.28 C402.20,111.13 405.54,110.19 408.89,111.15 C412.23,112.12 415.57,115.59 418.92,119.06 C422.26,122.54 425.60,127.94 428.95,132.01 C432.29,136.08 435.63,140.42 438.98,143.48 C442.32,146.55 445.66,148.76 449.01,150.42 C452.35,152.09 455.69,152.80 459.04,153.48 C462.38,154.16 465.72,154.28 469.07,154.49 C472.41,154.70 475.75,154.69 479.10,154.74 C482.44,154.79 485.78,154.78 489.13,154.79 C492.47,154.80 495.81,154.80 499.16,154.80 C502.50,154.80 507.51,154.80 509.19,154.80" fill="none" stroke="#FF7A1E" stroke-width="2" stroke-linejoin="round" stroke-linecap="round"/>
<path d="M318.62,154.80 C320.29,154.80 325.30,154.80 328.65,154.80 C331.99,154.79 335.33,154.80 338.68,154.78 C342.02,154.77 345.36,154.78 348.71,154.70 C352.05,154.63 355.39,154.61 358.74,154.33 C362.08,154.06 365.42,153.84 368.77,153.06 C372.11,152.28 375.45,151.38 378.80,149.63 C382.14,147.88 385.48,145.55 388.83,142.57 C392.17,139.58 395.51,135.47 398.86,131.72 C402.20,127.98 405.54,123.18 408.89,120.09 C412.23,117.00 415.57,114.03 418.92,113.19 C422.26,112.34 425.60,113.15 428.95,115.03 C432.29,116.92 435.63,120.94 438.98,124.51 C442.32,128.07 445.66,132.84 449.01,136.40 C452.35,139.97 455.69,143.40 459.04,145.90 C462.38,148.39 465.72,150.06 469.07,151.36 C472.41,152.67 475.75,153.21 479.10,153.74 C482.44,154.27 485.78,154.37 489.13,154.54 C492.47,154.71 495.81,154.71 499.16,154.75 C502.50,154.79 507.51,154.78 509.19,154.79" fill="none" stroke="#1A6FD0" stroke-width="2" stroke-linejoin="round" stroke-linecap="round"/>
<text x="305.1" y="157.7" font-size="9.3" text-anchor="end" fill="#222">0</text>
<text x="305.1" y="135.23" font-size="9.3" text-anchor="end" fill="#222">0.1</text>
<text x="305.1" y="112.77" font-size="9.3" text-anchor="end" fill="#222">0.2</text>
<text x="305.1" y="90.3" font-size="9.3" text-anchor="end" fill="#222">0.3</text>
<text x="522.8" y="157.7" font-size="9.3" fill="#222">0</text>
<text x="522.8" y="135.23" font-size="9.3" fill="#222">7</text>
<text x="522.8" y="112.77" font-size="9.3" fill="#222">14</text>
<text x="522.8" y="90.3" font-size="9.3" fill="#222">21</text>
<text transform="translate(287.1,121.1) rotate(-90)" font-size="9.5" text-anchor="middle" fill="#222">Probability</text>
<text transform="translate(545.2,121.1) rotate(-90)" font-size="9.6" text-anchor="middle" fill="#222">Number of trips</text>
<line x1="313.6" y1="214.93" x2="514.2" y2="214.93" stroke="#D9D9D9" stroke-width="1"/>
<line x1="313.6" y1="192.37" x2="514.2" y2="192.37" stroke="#D9D9D9" stroke-width="1"/>
<line x1="363.75" y1="169.8" x2="363.75" y2="237.5" stroke="#D9D9D9" stroke-width="1"/>
<line x1="413.9" y1="169.8" x2="413.9" y2="237.5" stroke="#D9D9D9" stroke-width="1"/>
<line x1="464.05" y1="169.8" x2="464.05" y2="237.5" stroke="#D9D9D9" stroke-width="1"/>
<rect x="365.87" y="231.05" width="2.9" height="6.45" fill="#FF7A1E"/>
<rect x="375.9" y="218.16" width="2.9" height="19.34" fill="#FF7A1E"/>
<rect x="385.93" y="214.93" width="2.9" height="22.57" fill="#FF7A1E"/>
<rect x="395.96" y="211.71" width="2.9" height="25.79" fill="#FF7A1E"/>
<rect x="405.99" y="211.71" width="2.9" height="25.79" fill="#FF7A1E"/>
<rect x="416.02" y="211.71" width="2.9" height="25.79" fill="#FF7A1E"/>
<rect x="426.05" y="214.93" width="2.9" height="22.57" fill="#FF7A1E"/>
<rect x="436.08" y="231.05" width="2.9" height="6.45" fill="#FF7A1E"/>
<rect x="446.11" y="234.28" width="2.9" height="3.22" fill="#FF7A1E"/>
<rect x="466.17" y="234.28" width="2.9" height="3.22" fill="#FF7A1E"/>
<rect x="486.23" y="234.28" width="2.9" height="3.22" fill="#FF7A1E"/>
<rect x="358.74" y="234.28" width="2.9" height="3.22" fill="#1A6FD0"/>
<rect x="388.83" y="231.05" width="2.9" height="6.45" fill="#1A6FD0"/>
<rect x="398.86" y="231.05" width="2.9" height="6.45" fill="#1A6FD0"/>
<rect x="408.89" y="211.71" width="2.9" height="25.79" fill="#1A6FD0"/>
<rect x="418.92" y="211.71" width="2.9" height="25.79" fill="#1A6FD0"/>
<rect x="428.95" y="185.92" width="2.9" height="51.58" fill="#1A6FD0"/>
<rect x="438.98" y="192.37" width="2.9" height="45.13" fill="#1A6FD0"/>
<rect x="449.01" y="231.05" width="2.9" height="6.45" fill="#1A6FD0"/>
<rect x="459.04" y="221.38" width="2.9" height="16.12" fill="#1A6FD0"/>
<rect x="479.1" y="234.28" width="2.9" height="3.22" fill="#1A6FD0"/>
<rect x="463.5" y="170.7" width="50.1" height="17" fill="#D9D9D9"/>
<text x="489.4" y="183" font-size="9.6" text-anchor="middle" fill="#222">Driver G</text>
<rect x="314.7" y="181.3" width="48" height="31.8" fill="none" stroke="#222" stroke-width="1.6" stroke-dasharray="4 3"/>
<rect x="317.9" y="184.8" width="6.3" height="5.8" fill="#FF7A1E"/>
<text x="326.7" y="189.9" font-size="8.7" fill="#222">Signal</text>
<text x="326.7" y="200.1" font-size="8.7" fill="#222">M=0.96</text>
<text x="326.7" y="210.3" font-size="8.7" fill="#222">SD=0.25</text>
<rect x="464.5" y="194.8" width="48.8" height="32.6" fill="none" stroke="#222" stroke-width="1.6" stroke-dasharray="4 3"/>
<rect x="468.4" y="198.4" width="6.3" height="5.8" fill="#1A6FD0"/>
<text x="476.9" y="203.4" font-size="8.7" fill="#222">Bus stop</text>
<text x="476.9" y="213.6" font-size="8.7" fill="#222">M=1.14</text>
<text x="476.9" y="223.8" font-size="8.7" fill="#222">SD=0.20</text>
<rect x="313.6" y="169.8" width="200.6" height="67.7" fill="none" stroke="#333" stroke-width="1.3"/>
<path d="M318.62,237.45 C320.29,237.43 325.30,237.41 328.65,237.31 C331.99,237.22 335.33,237.14 338.68,236.87 C342.02,236.60 345.36,236.33 348.71,235.69 C352.05,235.06 355.39,234.31 358.74,233.07 C362.08,231.83 365.42,230.26 368.77,228.26 C372.11,226.25 375.45,223.67 378.80,221.06 C382.14,218.44 385.48,215.20 388.83,212.57 C392.17,209.95 395.51,207.05 398.86,205.30 C402.20,203.55 405.54,202.23 408.89,202.06 C412.23,201.88 415.57,202.78 418.92,204.25 C422.26,205.73 425.60,208.40 428.95,210.93 C432.29,213.45 435.63,216.72 438.98,219.40 C442.32,222.08 445.66,224.84 449.01,226.99 C452.35,229.14 455.69,230.92 459.04,232.30 C462.38,233.69 465.72,234.58 469.07,235.31 C472.41,236.04 475.75,236.39 479.10,236.71 C482.44,237.04 485.78,237.14 489.13,237.26 C492.47,237.38 495.81,237.40 499.16,237.44 C502.50,237.48 507.51,237.48 509.19,237.49" fill="none" stroke="#FF7A1E" stroke-width="2" stroke-linejoin="round" stroke-linecap="round"/>
<path d="M318.62,237.50 C320.29,237.50 325.30,237.50 328.65,237.50 C331.99,237.50 335.33,237.50 338.68,237.50 C342.02,237.49 345.36,237.50 348.71,237.48 C352.05,237.46 355.39,237.48 358.74,237.38 C362.08,237.29 365.42,237.28 368.77,236.93 C372.11,236.58 375.45,236.30 378.80,235.30 C382.14,234.29 385.48,233.09 388.83,230.88 C392.17,228.66 395.51,225.61 398.86,222.00 C402.20,218.40 405.54,213.36 408.89,209.26 C412.23,205.17 415.57,200.11 418.92,197.43 C422.26,194.76 425.60,192.89 428.95,193.22 C432.29,193.54 435.63,196.26 438.98,199.38 C442.32,202.51 445.66,207.82 449.01,211.95 C452.35,216.08 455.69,220.81 459.04,224.16 C462.38,227.52 465.72,230.14 469.07,232.08 C472.41,234.01 475.75,234.95 479.10,235.78 C482.44,236.62 485.78,236.80 489.13,237.08 C492.47,237.35 495.81,237.35 499.16,237.42 C502.50,237.49 507.51,237.48 509.19,237.49" fill="none" stroke="#1A6FD0" stroke-width="2" stroke-linejoin="round" stroke-linecap="round"/>
<text x="305.1" y="240.4" font-size="9.3" text-anchor="end" fill="#222">0</text>
<text x="305.1" y="217.83" font-size="9.3" text-anchor="end" fill="#222">0.1</text>
<text x="305.1" y="195.27" font-size="9.3" text-anchor="end" fill="#222">0.2</text>
<text x="305.1" y="172.7" font-size="9.3" text-anchor="end" fill="#222">0.3</text>
<text x="522.8" y="240.4" font-size="9.3" fill="#222">0</text>
<text x="522.8" y="217.83" font-size="9.3" fill="#222">7</text>
<text x="522.8" y="195.27" font-size="9.3" fill="#222">14</text>
<text x="522.8" y="172.7" font-size="9.3" fill="#222">21</text>
<text transform="translate(287.1,203.65) rotate(-90)" font-size="9.5" text-anchor="middle" fill="#222">Probability</text>
<text transform="translate(545.2,203.65) rotate(-90)" font-size="9.6" text-anchor="middle" fill="#222">Number of trips</text>
<line x1="313.6" y1="295.67" x2="514.2" y2="295.67" stroke="#D9D9D9" stroke-width="1"/>
<line x1="313.6" y1="273.23" x2="514.2" y2="273.23" stroke="#D9D9D9" stroke-width="1"/>
<line x1="363.75" y1="250.8" x2="363.75" y2="318.1" stroke="#D9D9D9" stroke-width="1"/>
<line x1="413.9" y1="250.8" x2="413.9" y2="318.1" stroke="#D9D9D9" stroke-width="1"/>
<line x1="464.05" y1="250.8" x2="464.05" y2="318.1" stroke="#D9D9D9" stroke-width="1"/>
<rect x="345.81" y="311.69" width="2.9" height="6.41" fill="#FF7A1E"/>
<rect x="355.84" y="308.49" width="2.9" height="9.61" fill="#FF7A1E"/>
<rect x="365.87" y="314.9" width="2.9" height="3.2" fill="#FF7A1E"/>
<rect x="375.9" y="311.69" width="2.9" height="6.41" fill="#FF7A1E"/>
<rect x="385.93" y="289.26" width="2.9" height="28.84" fill="#FF7A1E"/>
<rect x="395.96" y="302.08" width="2.9" height="16.02" fill="#FF7A1E"/>
<rect x="405.99" y="305.28" width="2.9" height="12.82" fill="#FF7A1E"/>
<rect x="416.02" y="308.49" width="2.9" height="9.61" fill="#FF7A1E"/>
<rect x="426.05" y="308.49" width="2.9" height="9.61" fill="#FF7A1E"/>
<rect x="436.08" y="311.69" width="2.9" height="6.41" fill="#FF7A1E"/>
<rect x="446.11" y="305.28" width="2.9" height="12.82" fill="#FF7A1E"/>
<rect x="456.14" y="314.9" width="2.9" height="3.2" fill="#FF7A1E"/>
<rect x="378.8" y="314.9" width="2.9" height="3.2" fill="#1A6FD0"/>
<rect x="388.83" y="314.9" width="2.9" height="3.2" fill="#1A6FD0"/>
<rect x="398.86" y="302.08" width="2.9" height="16.02" fill="#1A6FD0"/>
<rect x="408.89" y="292.46" width="2.9" height="25.64" fill="#1A6FD0"/>
<rect x="418.92" y="286.05" width="2.9" height="32.05" fill="#1A6FD0"/>
<rect x="428.95" y="282.85" width="2.9" height="35.25" fill="#1A6FD0"/>
<rect x="438.98" y="302.08" width="2.9" height="16.02" fill="#1A6FD0"/>
<rect x="449.01" y="308.49" width="2.9" height="9.61" fill="#1A6FD0"/>
<rect x="459.04" y="302.08" width="2.9" height="16.02" fill="#1A6FD0"/>
<rect x="469.07" y="308.49" width="2.9" height="9.61" fill="#1A6FD0"/>
<rect x="499.16" y="314.9" width="2.9" height="3.2" fill="#1A6FD0"/>
<rect x="463.9" y="252.4" width="49.7" height="16.6" fill="#D9D9D9"/>
<text x="489.4" y="264" font-size="9.6" text-anchor="middle" fill="#222">Driver H</text>
<rect x="313.8" y="251.4" width="134" height="28.3" fill="none" stroke="#222" stroke-width="1.6" stroke-dasharray="4 3"/>
<rect x="317.1" y="253.3" width="6.3" height="5.8" fill="#FF7A1E"/>
<text x="325.3" y="257.7" font-size="8.7" fill="#222">Signal</text>
<text x="325.3" y="267.7" font-size="8.7" fill="#222">M=0.89 (M=Mean)</text>
<text x="325.3" y="277.7" font-size="8.7" fill="#222">SD=0.29 (SD=Standard deviation)</text>
<rect x="464.5" y="272.9" width="48.8" height="32.1" fill="none" stroke="#222" stroke-width="1.6" stroke-dasharray="4 3"/>
<rect x="468.5" y="276.4" width="6.3" height="5.8" fill="#1A6FD0"/>
<text x="476.5" y="281.5" font-size="8.7" fill="#222">Bus stop</text>
<text x="476.5" y="291.7" font-size="8.7" fill="#222">M=1.14</text>
<text x="476.5" y="301.9" font-size="8.7" fill="#222">SD=0.24</text>
<rect x="313.6" y="250.8" width="200.6" height="67.3" fill="none" stroke="#333" stroke-width="1.3"/>
<path d="M318.62,317.64 C320.29,317.52 325.30,317.30 328.65,316.93 C331.99,316.56 335.33,316.14 338.68,315.44 C342.02,314.74 345.36,313.89 348.71,312.73 C352.05,311.57 355.39,310.14 358.74,308.48 C362.08,306.83 365.42,304.81 368.77,302.81 C372.11,300.82 375.45,298.48 378.80,296.52 C382.14,294.56 385.48,292.47 388.83,291.05 C392.17,289.62 395.51,288.44 398.86,287.99 C402.20,287.54 405.54,287.68 408.89,288.35 C412.23,289.01 415.57,290.42 418.92,291.99 C422.26,293.56 425.60,295.76 428.95,297.76 C432.29,299.77 435.63,302.08 438.98,304.03 C442.32,305.98 445.66,307.90 449.01,309.46 C452.35,311.02 455.69,312.33 459.04,313.39 C462.38,314.45 465.72,315.20 469.07,315.82 C472.41,316.44 475.75,316.80 479.10,317.12 C482.44,317.44 485.78,317.58 489.13,317.73 C492.47,317.87 495.81,317.92 499.16,317.97 C502.50,318.03 507.51,318.05 509.19,318.06" fill="none" stroke="#FF7A1E" stroke-width="2" stroke-linejoin="round" stroke-linecap="round"/>
<path d="M318.62,318.10 C320.29,318.10 325.30,318.10 328.65,318.09 C331.99,318.09 335.33,318.09 338.68,318.06 C342.02,318.04 345.36,318.03 348.71,317.94 C352.05,317.85 355.39,317.78 358.74,317.51 C362.08,317.24 365.42,316.97 368.77,316.31 C372.11,315.65 375.45,314.87 378.80,313.53 C382.14,312.19 385.48,310.48 388.83,308.29 C392.17,306.10 395.51,303.24 398.86,300.40 C402.20,297.56 405.54,294.01 408.89,291.25 C412.23,288.49 415.57,285.50 418.92,283.86 C422.26,282.22 425.60,281.21 428.95,281.40 C432.29,281.60 435.63,283.09 438.98,285.03 C442.32,286.97 445.66,290.20 449.01,293.05 C452.35,295.91 455.69,299.40 459.04,302.15 C462.38,304.90 465.72,307.54 469.07,309.56 C472.41,311.58 475.75,313.08 479.10,314.26 C482.44,315.44 485.78,316.08 489.13,316.65 C492.47,317.21 495.81,317.42 499.16,317.64 C502.50,317.86 507.51,317.92 509.19,317.98" fill="none" stroke="#1A6FD0" stroke-width="2" stroke-linejoin="round" stroke-linecap="round"/>
<text x="305.1" y="321" font-size="9.3" text-anchor="end" fill="#222">0</text>
<text x="305.1" y="298.57" font-size="9.3" text-anchor="end" fill="#222">0.1</text>
<text x="305.1" y="276.13" font-size="9.3" text-anchor="end" fill="#222">0.2</text>
<text x="305.1" y="253.7" font-size="9.3" text-anchor="end" fill="#222">0.3</text>
<text x="522.8" y="321" font-size="9.3" fill="#222">0</text>
<text x="522.8" y="298.57" font-size="9.3" fill="#222">7</text>
<text x="522.8" y="276.13" font-size="9.3" fill="#222">14</text>
<text x="522.8" y="253.7" font-size="9.3" fill="#222">21</text>
<text transform="translate(287.1,284.45) rotate(-90)" font-size="9.5" text-anchor="middle" fill="#222">Probability</text>
<text transform="translate(545.2,284.45) rotate(-90)" font-size="9.6" text-anchor="middle" fill="#222">Number of trips</text>
<text x="313.6" y="333" font-size="9.3" text-anchor="middle" fill="#222">0</text>
<text x="369.56" y="333" font-size="9.3" text-anchor="end" fill="#222">−0.5</text>
<text x="416.23" y="333" font-size="9.3" text-anchor="end" fill="#222">−1</text>
<text x="469.86" y="333" font-size="9.3" text-anchor="end" fill="#222">−1.5</text>
<text x="516.53" y="333" font-size="9.3" text-anchor="end" fill="#222">−2</text>
<text x="413.9" y="345" font-size="9.8" text-anchor="middle" fill="#222">Acceleration [m/s<tspan font-size="6.5" dy="-3.5">2</tspan><tspan dy="3.5">]</tspan></text>
<text x="99.5" y="17" font-size="9.7" fill="#222">Probability</text>
<text x="146" y="29.7" font-size="9.7" fill="#222">Number of trips</text>
<polyline points="119.2,18.7 119.2,22.2" stroke="#222" stroke-width="1.2" fill="none"/>
<polyline points="179.3,35 179.3,51.9 95,51.9" stroke="#222" stroke-width="1.2" fill="none"/>
<polyline points="179.3,42.5 139,42.5" stroke="#222" stroke-width="1.2" fill="none"/>
<polyline points="106.6,35.5 106.6,22.2 131.8,22.2 131.8,30" stroke="#222" stroke-width="1.2" fill="none"/>
<polygon points="106.60,38.40 103.70,33.20 106.60,34.80 109.50,33.20" fill="#222"/>
<polygon points="131.80,32.80 128.90,27.60 131.80,29.20 134.70,27.60" fill="#222"/>
<polygon points="92.60,51.90 97.80,49.00 96.20,51.90 97.80,54.80" fill="#222"/>
<polygon points="136.40,42.50 141.60,39.60 140.00,42.50 141.60,45.40" fill="#222"/>
</svg></body></html>
